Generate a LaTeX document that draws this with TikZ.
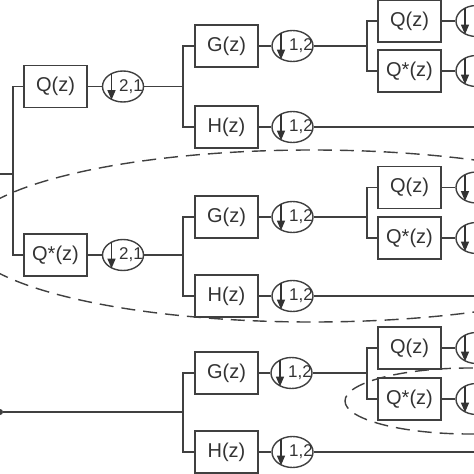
\documentclass[tikz,border=0pt]{standalone}
\usepackage{fontspec}
\setmainfont{Liberation Sans}
\usetikzlibrary{shapes.geometric,arrows.meta}
\tikzset{
  ln/.style={draw=black!75, line width=1.4pt},
  box/.style={ln, rectangle, minimum width=63pt, minimum height=42pt, inner sep=0pt,
    text=black!80, font=\fontsize{20}{22}\selectfont},
  samp/.style={ln, ellipse, minimum width=41pt, minimum height=31pt, inner sep=0pt},
  slab/.style={inner sep=0pt, text=black!80, font=\fontsize{17}{19}\selectfont},
  darr/.style={draw=black!80, line width=1.5pt, -{Triangle[length=10pt,width=8pt]}},
  dsh/.style={draw=black!75, line width=1.4pt, dash pattern=on 14pt off 8pt},
  dot/.style={circle, fill=black!75, minimum size=6pt, inner sep=0pt}
}
\newcommand\dsamp[5]{%
  \node[samp] (#1) at (#2,#3) {};
  \node[slab] at ([xshift=#5pt]#1.center) {#4};
  \draw[darr] ([xshift=-11.5pt,yshift=12.8pt]#1.center) -- ([xshift=-11.5pt,yshift=-13.5pt]#1.center);
}
\begin{document}
\begin{tikzpicture}[x=1pt,y=-1pt]
\useasboundingbox (0,0) rectangle (474,474);
\clip (0,0) rectangle (474,474);
\fill[white] (0,0) rectangle (474,474);
% level 1
\node[box] (Q1) at (55.5,86.5) {Q(z)};
\node[box] (Q2) at (55.5,255) {Q*(z)};
\dsamp{E1}{123}{86.5}{2,1}{8}
\dsamp{E2}{123}{255}{2,1}{8}
\coordinate (in1) at (0,174);
\coordinate (j1) at (13,174);
\draw[ln] (in1) -- (j1);
\draw[ln] (Q1.west) -| (j1) |- (Q2.west);
\draw[ln] (Q1) -- (E1);
\draw[ln] (Q2) -- (E2);
% level 2
\node[box] (G1) at (226.5,46) {G(z)};
\node[box] (H1) at (226.5,127) {H(z)};
\node[box] (G2) at (226.5,217) {G(z)};
\node[box] (H2) at (226.5,296) {H(z)};
\node[box] (G3) at (226.5,373) {G(z)};
\node[box] (H3) at (226.5,452) {H(z)};
\coordinate (j2) at (183,86.5);
\coordinate (j3) at (183,255);
\node[dot] (in3) at (0,412) {};
\coordinate (j4) at (183,412);
\draw[ln] (E1) -- (j2);
\draw[ln] (G1.west) -| (j2) |- (H1.west);
\draw[ln] (E2) -- (j3);
\draw[ln] (G2.west) -| (j3) |- (H2.west);
\draw[ln] (in3) -- (j4);
\draw[ln] (G3.west) -| (j4) |- (H3.west);
% level 2 downsamplers
\dsamp{EG1}{292.5}{46}{1,2}{8.5}
\dsamp{EH1}{292.5}{127}{1,2}{8.5}
\dsamp{EG2}{292.5}{217}{1,2}{8.5}
\dsamp{EH2}{292.5}{296}{1,2}{8.5}
\dsamp{EG3}{291.5}{373}{1,2}{8.5}
\dsamp{EH3}{292.5}{452}{1,2}{8.5}
\foreach \a in {1,2,3}{\draw[ln] (G\a) -- (EG\a); \draw[ln] (H\a) -- (EH\a);}
\coordinate (oH1) at (480,127);
\coordinate (oH2) at (480,296);
\coordinate (oH3) at (480,452);
\draw[ln] (EH1) -- (oH1);
\draw[ln] (EH2) -- (oH2);
\draw[ln] (EH3) -- (oH3);
% level 3
\node[box] (A1) at (409.5,21) {Q(z)};
\node[box] (B1) at (409.5,71) {Q*(z)};
\node[box] (A2) at (409.5,187.5) {Q(z)};
\node[box] (B2) at (409.5,238) {Q*(z)};
\node[box] (A3) at (409.5,348) {Q(z)};
\node[box] (B3) at (409.5,399) {Q*(z)};
\coordinate (k1) at (367,46);
\coordinate (k2) at (367,217);
\coordinate (k3) at (367,373);
\draw[ln] (EG1) -- (k1);
\draw[ln] (EG2) -- (k2);
\draw[ln] (EG3) -- (k3);
\draw[ln] (A1.west) -| (k1) |- (B1.west);
\draw[ln] (A2.west) -| (k2) |- (B2.west);
\draw[ln] (A3.west) -| (k3) |- (B3.west);
\dsamp{EA1}{476.5}{21}{1,2}{8.5}
\dsamp{EB1}{476.5}{71}{1,2}{8.5}
\dsamp{EA2}{476.5}{187.5}{1,2}{8.5}
\dsamp{EB2}{476.5}{238}{1,2}{8.5}
\dsamp{EA3}{476.5}{348}{1,2}{8.5}
\dsamp{EB3}{476.5}{399}{1,2}{8.5}
\foreach \a in {1,2,3}{\draw[ln] (A\a) -- (EA\a); \draw[ln] (B\a) -- (EB\a);}
% dashed groupings
\draw[dsh] (312,236) ellipse [x radius=347pt, y radius=86pt];
\draw[dsh] (470,401) ellipse [x radius=125pt, y radius=33pt];
\end{tikzpicture}
\end{document}
